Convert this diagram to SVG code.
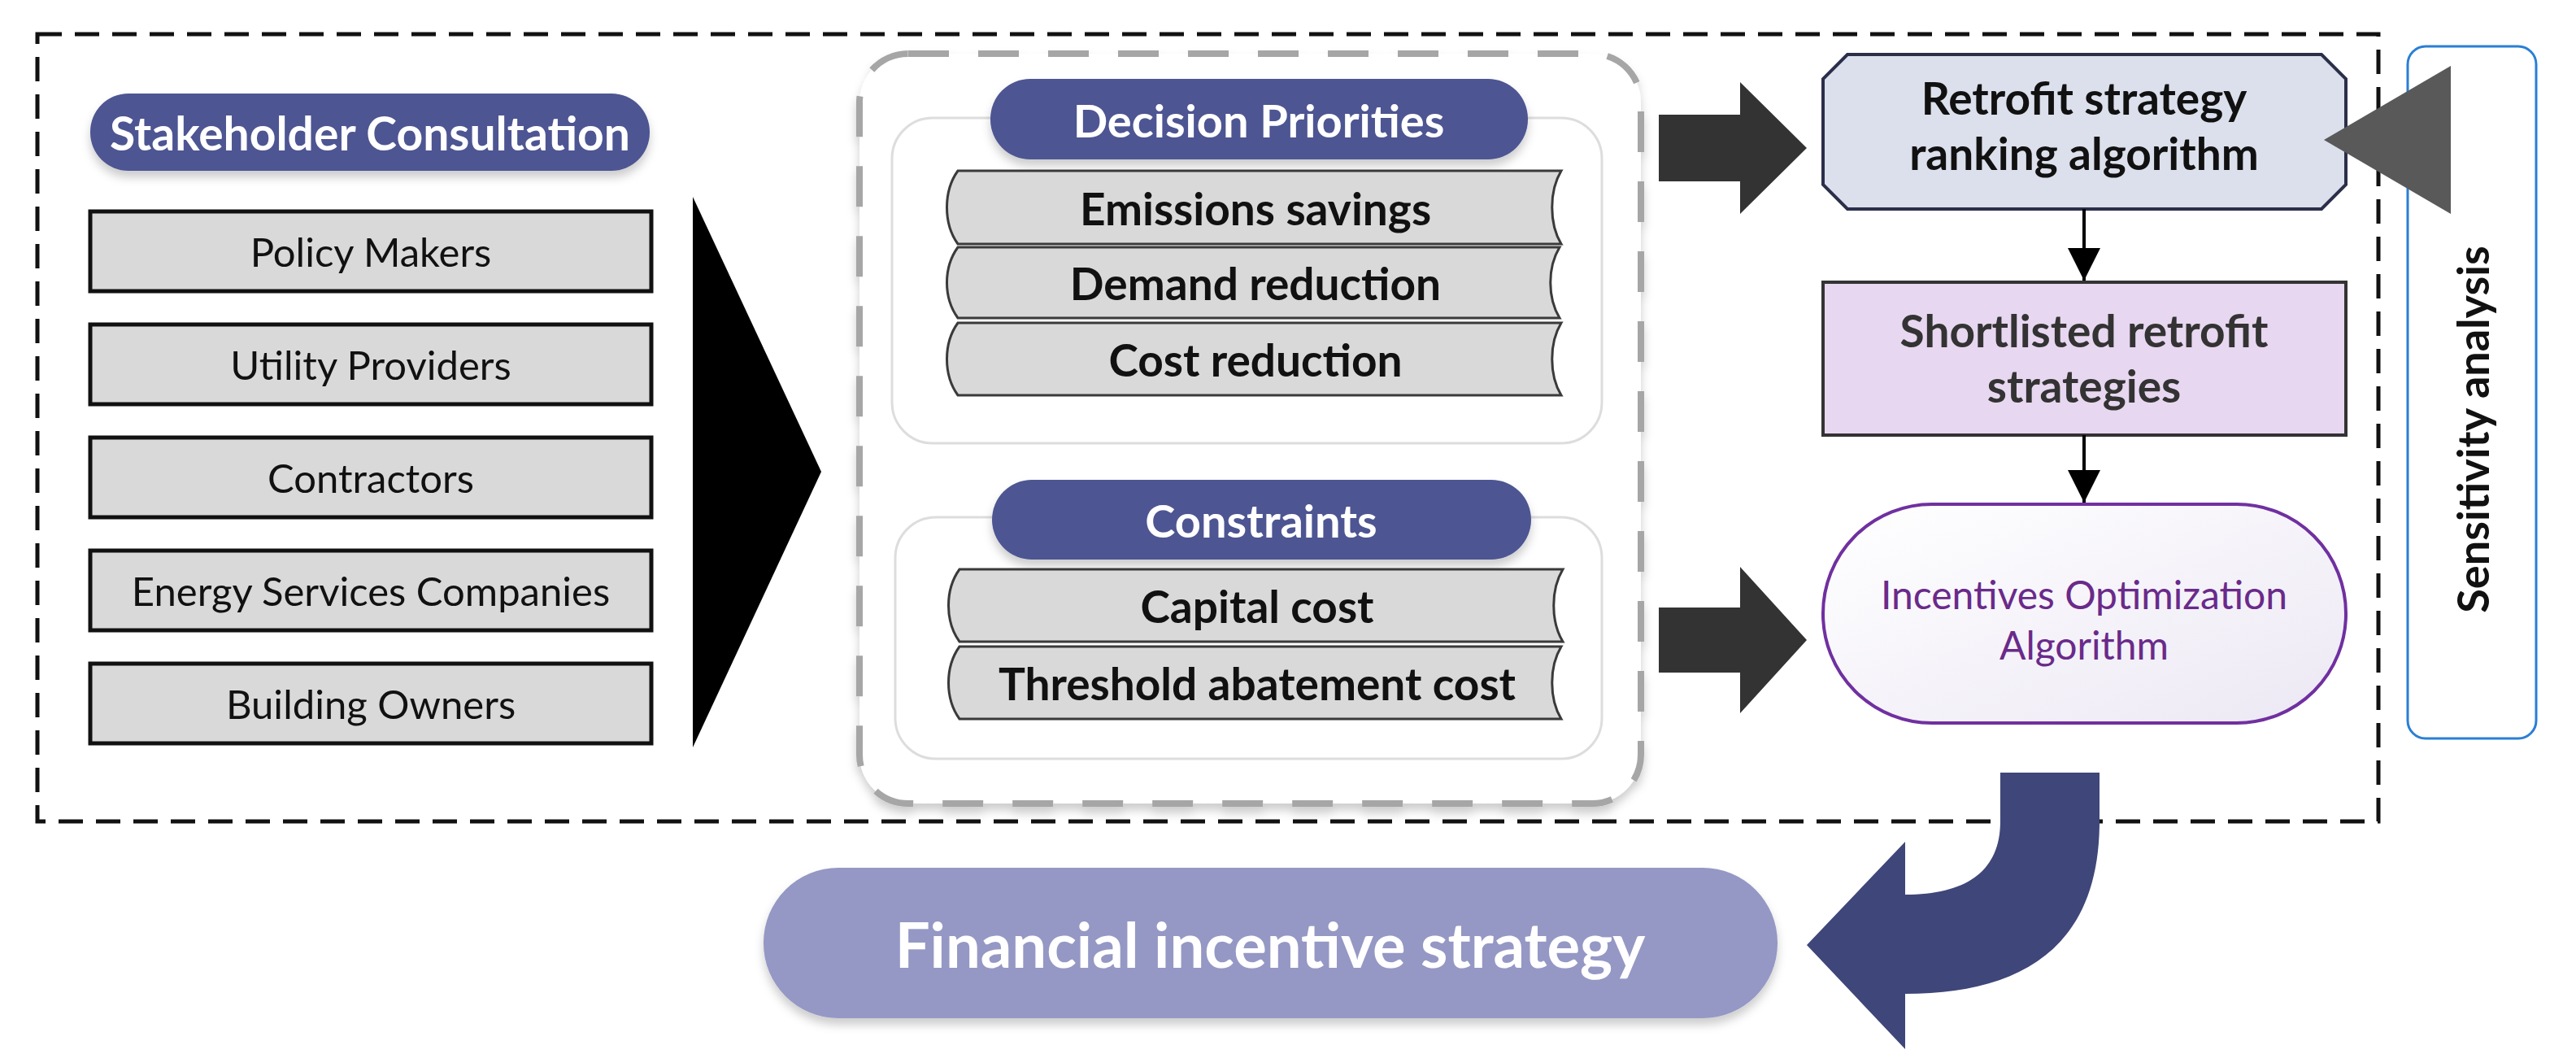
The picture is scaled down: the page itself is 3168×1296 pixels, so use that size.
<svg xmlns="http://www.w3.org/2000/svg" width="3168" height="1296" viewBox="0 0 3168 1296">
<style>
.t{font-family:Lato,"Open Sans","Liberation Sans",sans-serif;text-anchor:middle;dominant-baseline:central}
.b{font-weight:bold}
.w{fill:#fff}
.k{fill:#111}
.pill{fill:#4d5592}
.box{fill:#d9d9d9;stroke:#111;stroke-width:5}
.row{fill:#d9d9d9;stroke:#3a3a3a;stroke-width:3}
.inner{fill:#fff;stroke:#dddddd;stroke-width:3}
.thick{fill:#333}
</style>
<defs>
<filter id="sh" x="-10%" y="-20%" width="120%" height="150%"><feDropShadow dx="0" dy="8" stdDeviation="6" flood-color="#000" flood-opacity="0.2"/></filter>
<marker id="ah" viewBox="0 0 10 10" refX="10" refY="5" markerWidth="40" markerHeight="40" markerUnits="userSpaceOnUse" orient="auto"><path d="M0,0 L10,5 L0,10 Z" fill="#000"/></marker>
<linearGradient id="ig" x1="0" y1="0" x2="1" y2="1"><stop offset="0" stop-color="#ffffff"/><stop offset="1" stop-color="#ece8f4"/></linearGradient>
</defs>
<rect width="3168" height="1296" fill="#fff"/>
<rect x="46" y="42" width="2879" height="968" fill="none" stroke="#111" stroke-width="5" stroke-dasharray="30,16"/>
<rect x="1057" y="66" width="961" height="922" rx="60" fill="#fff" stroke="#a6a6a6" stroke-width="8" stroke-dasharray="50,36" filter="url(#sh)"/>

<g id="stakeholder">
<rect x="111" y="115" width="688" height="95" rx="47" class="pill" filter="url(#sh)"/>
<text x="455" y="163" class="t b w" font-size="57">Stakeholder Consultation</text>
</g>
<g id="policy"><rect x="111" y="260" width="690" height="98" class="box"/><text x="456" y="309" class="t k" font-size="49">Policy Makers</text></g>
<g id="utility"><rect x="111" y="399" width="690" height="98" class="box"/><text x="456" y="448" class="t k" font-size="49">Utility Providers</text></g>
<g id="contractors"><rect x="111" y="538" width="690" height="98" class="box"/><text x="456" y="587" class="t k" font-size="49">Contractors</text></g>
<g id="esco"><rect x="111" y="677" width="690" height="98" class="box"/><text x="456" y="726" class="t k" font-size="49">Energy Services Companies</text></g>
<g id="owners"><rect x="111" y="816" width="690" height="98" class="box"/><text x="456" y="865" class="t k" font-size="49">Building Owners</text></g>

<g id="priorities">
<rect x="1097" y="145" width="873" height="400" rx="50" class="inner"/>
<rect x="1218" y="97" width="661" height="99" rx="49" class="pill" filter="url(#sh)"/>
<text x="1548" y="147" class="t b w" font-size="56">Decision Priorities</text>
<path d="M1178,210 L1920,210 C1905,235 1905,275 1920,300 L1178,300 C1160,275 1160,235 1178,210 Z" class="row"/>
<text x="1544" y="256" class="t b k" font-size="55">Emissions savings</text>
<path d="M1178,304 L1918,304 C1903,329 1903,366 1918,391 L1178,391 C1160,366 1160,329 1178,304 Z" class="row"/>
<text x="1544" y="348" class="t b k" font-size="55">Demand reduction</text>
<path d="M1178,397 L1920,397 C1905,422 1905,461 1920,486 L1178,486 C1160,461 1160,422 1178,397 Z" class="row"/>
<text x="1544" y="442" class="t b k" font-size="55">Cost reduction</text>
</g>

<g id="constraints">
<rect x="1101" y="636" width="869" height="297" rx="50" class="inner"/>
<rect x="1220" y="590" width="663" height="98" rx="49" class="pill" filter="url(#sh)"/>
<text x="1551" y="639" class="t b w" font-size="56">Constraints</text>
<path d="M1180,700 L1922,700 C1907,725 1907,764 1922,789 L1180,789 C1162,764 1162,725 1180,700 Z" class="row"/>
<text x="1546" y="745" class="t b k" font-size="55">Capital cost</text>
<path d="M1180,795 L1920,795 C1905,820 1905,859 1920,884 L1180,884 C1162,859 1162,820 1180,795 Z" class="row"/>
<text x="1546" y="840" class="t b k" font-size="55">Threshold abatement cost</text>
</g>

<g id="ranking">
<path d="M2272,67 L2855,67 L2885,97 L2885,227 L2855,257 L2272,257 L2242,227 L2242,97 Z" fill="#dce0ec" stroke="#2b2f4a" stroke-width="4"/>
<text x="2563" y="120" class="t b k" font-size="55">Retrofit strategy</text>
<text x="2563" y="188" class="t b k" font-size="55">ranking algorithm</text>
</g>
<g id="shortlisted">
<rect x="2242" y="347" width="643" height="188" fill="#e8d7f0" stroke="#333" stroke-width="4"/>
<text x="2563" y="406" class="t b" fill="#333" font-size="55">Shortlisted retrofit</text>
<text x="2563" y="474" class="t b" fill="#333" font-size="55">strategies</text>
</g>
<g id="incentives">
<rect x="2242" y="620" width="643" height="269" rx="134" fill="url(#ig)" stroke="#7030a0" stroke-width="4"/>
<text x="2563" y="730" class="t" fill="#6a2a8a" font-size="48">Incentives Optimization</text>
<text x="2563" y="792" class="t" fill="#6a2a8a" font-size="48">Algorithm</text>
</g>
<g id="sensitivity">
<rect x="2961" y="57" width="158" height="851" rx="22" fill="#fff" stroke="#2a7fd4" stroke-width="3"/>
<text transform="translate(3040,528) rotate(-90)" class="t b k" font-size="54">Sensitivity analysis</text>
</g>
<g id="financial">
<rect x="939" y="1067" width="1247" height="185" rx="92" fill="#9598c4" filter="url(#sh)"/>
<text x="1562" y="1160" class="t b w" font-size="76">Financial incentive strategy</text>
</g>

<g id="connectors">
<path d="M852,242 L1010,580 L852,919 Z" fill="#000"/>
<path d="M2040,141 L2140,141 L2140,101 L2222,182 L2140,263 L2140,223 L2040,223 Z" class="thick"/>
<path d="M2040,747 L2140,747 L2140,697 L2222,787 L2140,877 L2140,827 L2040,827 Z" class="thick"/>
<path d="M3014,81 L3014,263 L2858,172 Z" fill="#595959"/>
<line x1="2563" y1="257" x2="2563" y2="345" stroke="#000" stroke-width="4" marker-end="url(#ah)"/>
<line x1="2563" y1="535" x2="2563" y2="618" stroke="#000" stroke-width="4" marker-end="url(#ah)"/>
<path d="M2460,950 L2582,950 L2582,1010 C2582,1170 2480,1222 2343,1222 L2343,1290 L2222,1162 L2343,1035 L2343,1100 C2420,1100 2460,1070 2460,1010 Z" fill="#3f4679"/>
</g>
</svg>
